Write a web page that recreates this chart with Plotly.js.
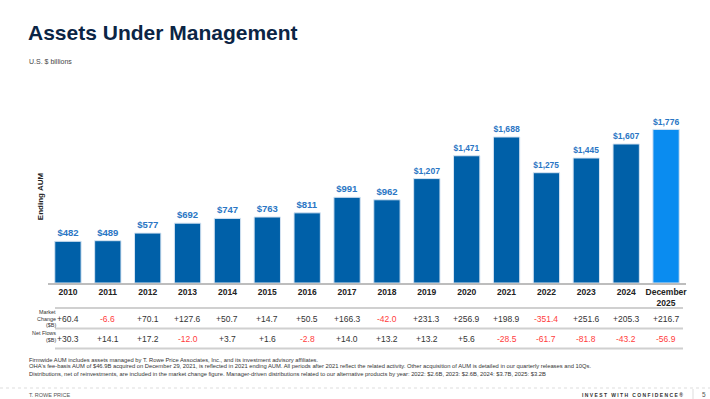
<!DOCTYPE html>
<html>
<head>
<meta charset="utf-8">
<script src="https://cdn.plot.ly/plotly-3.0.1.min.js"></script>
<style>
html,body{margin:0;padding:0;background:#fff;}
#chart{width:710px;height:399px;}
</style>
</head>
<body>
<div id="chart"></div>
<script>
// ---- data ----
const categories = ['2010','2011','2012','2013','2014','2015','2016','2017','2018','2019','2020','2021','2022','2023','2024','December<br>2025'];
const endingAUM = [482,489,577,692,747,763,811,991,962,1207,1471,1688,1275,1445,1607,1776];
const marketChange = [60.4,-6.6,70.1,127.6,50.7,14.7,50.5,166.3,-42.0,231.3,256.9,198.9,-351.4,251.6,205.3,216.7];
const netFlows = [30.3,14.1,17.2,-12.0,3.7,1.6,-2.8,14.0,13.2,13.2,5.6,-28.5,-61.7,-81.8,-43.2,-56.9];
const rowLabelsMarket = ['Market', 'Change', '($B)'];
const rowLabelsFlows = ['Net Flows', '($B)'];
const footnotes = [
  'Firmwide AUM includes assets managed by T. Rowe Price Associates, Inc., and its investment advisory affiliates.',
  "OHA's fee-basis AUM of $46.9B acquired on December 29, 2021, is reflected in 2021 ending AUM. All periods after 2021 reflect the related activity. Other acquisition of AUM is detailed in our quarterly releases and 10Qs.",
  'Distributions, net of reinvestments, are included in the market change figure. Manager-driven distributions related to our alternative products by year: 2022: $2.6B, 2023: $2.6B, 2024: $3.7B, 2025: $3.2B'
];

// ---- layout helpers ----
const W = 710, H = 399;
const plotTop = 110, plotBottom = 283, plotLeft = 48, plotRight = 686;
const py = px => (plotBottom - px) / (plotBottom - plotTop);
const pxX = px => (px - plotLeft) / (plotRight - plotLeft);
const FONT = 'Liberation Sans, Arial, sans-serif';

const DARK = '#0060a8', BRIGHT = '#0a8cf0';
const colors = endingAUM.map((v, i) => i === endingAUM.length - 1 ? BRIGHT : DARK);
const labels = endingAUM.map(v => '$' + v.toLocaleString('en-US'));
const fmt = v => (v >= 0 ? '+' : '') + v.toFixed(1);
const RED = '#ff3b3b', TXT = '#333333';

const trace = {
  type: 'bar',
  x: categories,
  y: endingAUM,
  marker: {color: colors, line: {color: '#d6e4f2', width: 1}},
  width: 0.66,
  text: labels,
  textposition: 'outside',
  cliponaxis: false,
  textfont: {family: FONT, size: 9.5, color: '#2a76c4', weight: 'bold'},
  hoverinfo: 'none'
};

const annotations = [];
const shapes = [];

// title & subtitle
annotations.push({xref:'paper', yref:'paper', x: pxX(26), y: py(33), xanchor:'left', yanchor:'middle',
  text:'<b>Assets Under Management</b>', showarrow:false,
  font:{family:FONT, size:21, color:'#0b2545'}});
annotations.push({xref:'paper', yref:'paper', x: pxX(27), y: py(62), xanchor:'left', yanchor:'middle',
  text:'U.S. $ billions', showarrow:false,
  font:{family:FONT, size:7, color:'#444'}});

// table rows
categories.forEach((c, i) => {
  annotations.push({xref:'x', yref:'paper', x: i, y: py(319), xanchor:'center', yanchor:'middle',
    text: fmt(marketChange[i]), showarrow:false,
    font:{family:FONT, size:8.5, color: marketChange[i] < 0 ? RED : TXT}});
  annotations.push({xref:'x', yref:'paper', x: i, y: py(339), xanchor:'center', yanchor:'middle',
    text: fmt(netFlows[i]), showarrow:false,
    font:{family:FONT, size:8.5, color: netFlows[i] < 0 ? RED : TXT}});
});
rowLabelsMarket.forEach((t, k) => {
  annotations.push({xref:'paper', yref:'paper', x: pxX(57), y: py(312 + 6.5 * k), xanchor:'right', yanchor:'middle',
    text: t, showarrow:false, font:{family:FONT, size:5.4, color:'#333'}, borderpad:0});
});
rowLabelsFlows.forEach((t, k) => {
  annotations.push({xref:'paper', yref:'paper', x: pxX(57), y: py(333 + 6.5 * k), xanchor:'right', yanchor:'middle',
    text: t, showarrow:false, font:{family:FONT, size:5.4, color:'#333'}, borderpad:0});
});

[308, 328.5, 348.5].forEach(yy => {
  shapes.push({type:'line', xref:'paper', yref:'paper', x0: pxX(55), x1: pxX(683), y0: py(yy), y1: py(yy),
    line:{color:'#d0d0d0', width:2}});
});

// footnotes
[359.5, 366, 374].forEach((yy, i) => {
  annotations.push({xref:'paper', yref:'paper', x: pxX(27), y: py(yy), xanchor:'left', yanchor:'middle',
    text: footnotes[i], showarrow:false,
    font:{family:FONT, size:5.8, color:'#333'}});
});

// footer
shapes.push({type:'line', xref:'paper', yref:'paper', x0: pxX(0), x1: pxX(710), y0: py(388), y1: py(388),
  line:{color:'#dddddd', width:1, dash:'dot'}});
shapes.push({type:'line', xref:'paper', yref:'paper', x0: pxX(693), x1: pxX(693), y0: py(389), y1: py(399),
  line:{color:'#dddddd', width:1}});
annotations.push({xref:'paper', yref:'paper', x: pxX(27), y: py(394.5), xanchor:'left', yanchor:'middle',
  text:'T. ROWE PRICE', showarrow:false,
  font:{family:FONT, size:5.5, color:'#555'}});
annotations.push({xref:'paper', yref:'paper', x: pxX(685), y: py(394.5), xanchor:'right', yanchor:'middle',
  text:'<b>I N V E S T   W I T H   C O N F I D E N C E ®</b>', showarrow:false,
  font:{family:FONT, size:5, color:'#333'}});
annotations.push({xref:'paper', yref:'paper', x: pxX(704), y: py(394.5), xanchor:'center', yanchor:'middle',
  text:'5', showarrow:false,
  font:{family:FONT, size:6.5, color:'#555'}});

const layout = {
  width: W, height: H,
  margin: {l: plotLeft, r: W - plotRight, t: plotTop, b: H - plotBottom, pad: 0},
  paper_bgcolor: '#ffffff', plot_bgcolor: '#ffffff',
  showlegend: false,
  xaxis: {
    type: 'category', range: [-0.5, categories.length - 0.5],
    showline: true, linecolor: '#bdbdbd', linewidth: 1.5,
    ticks: '', showgrid: false, zeroline: false, fixedrange: true,
    tickfont: {family: FONT, size: 8.5, color: '#222', weight: 'bold'},
    tickangle: 0
  },
  yaxis: {
    range: [0, 2000], showticklabels: false, showgrid: false, zeroline: false, ticks: '', fixedrange: true,
    title: {text: 'Ending AUM', standoff: 2, font: {family: FONT, size: 8, color: '#222', weight: 'bold'}}
  },
  annotations: annotations,
  shapes: shapes
};

Plotly.newPlot('chart', [trace], layout, {displayModeBar: false, staticPlot: true});
</script>
</body>
</html>
